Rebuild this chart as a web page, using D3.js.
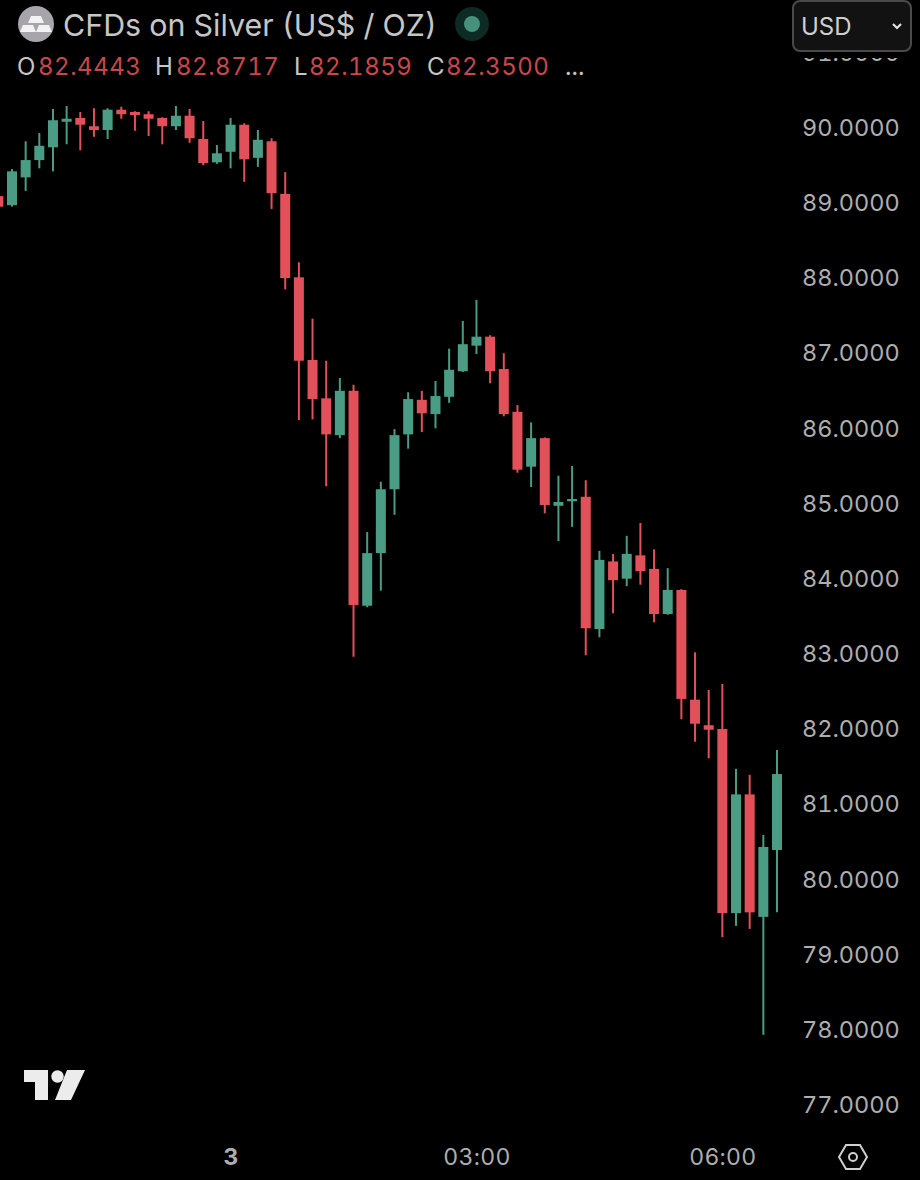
<!DOCTYPE html>
<html>
<head>
<meta charset="utf-8">
<script src="https://cdn.jsdelivr.net/npm/d3@7"></script>
<style>html,body{margin:0;padding:0;background:#000;overflow:hidden}svg{display:block}text{font-family:Inter,"Liberation Sans",sans-serif;font-variant-numeric:tabular-nums;font-feature-settings:"tnum" 1}</style>
</head>
<body>
<svg id="c" width="920" height="1180"></svg>
<script>
const opens=[89.08,88.96,89.33,89.56,89.73,90.07,90.12,90.01,89.96,90.23,90.20,90.17,90.12,90.01,90.15,89.84,89.53,89.67,90.03,89.59,89.81,89.11,88.00,86.90,86.39,85.90,86.49,83.63,84.33,85.18,85.91,86.37,86.18,86.41,86.75,87.09,87.21,86.78,86.21,85.48,85.86,84.96,85.02,85.08,83.32,84.22,83.99,84.30,84.12,83.52,83.84,82.38,82.04,81.99,79.54,81.12,79.49,80.38];
const highs=[89.08,89.44,89.81,89.92,90.24,90.28,90.20,90.25,90.25,90.27,90.21,90.21,90.13,90.28,90.24,90.08,89.76,90.12,90.05,89.96,89.85,89.40,88.20,87.45,86.89,86.66,86.57,84.61,85.28,85.98,86.47,86.49,86.62,87.05,87.42,87.70,87.23,86.99,86.30,86.07,85.87,85.36,85.49,85.30,84.36,84.32,84.56,84.73,84.38,84.13,83.85,83.01,82.51,82.59,81.46,81.38,80.58,81.71];
const lows=[88.94,88.94,89.15,89.45,89.41,89.77,89.69,89.87,89.84,90.11,89.95,89.88,89.77,89.96,89.79,89.49,89.51,89.45,89.27,89.47,88.91,87.84,86.10,86.11,85.22,85.86,82.95,83.61,83.83,84.84,85.72,85.94,85.99,86.33,86.74,86.98,86.59,86.15,85.40,85.21,84.86,84.49,84.68,82.97,83.21,83.53,83.89,83.91,83.41,83.51,82.12,81.82,81.60,79.22,79.37,79.33,77.92,79.55];
const closes=[88.94,89.41,89.56,89.75,90.09,90.11,90.03,89.96,90.23,90.17,90.16,90.11,90.01,90.15,89.85,89.52,89.65,90.03,89.57,89.83,89.12,87.99,86.89,86.38,85.91,86.49,83.64,84.33,85.18,85.90,86.38,86.19,86.42,86.77,87.11,87.21,86.75,86.18,85.44,85.86,84.97,85.01,85.05,83.33,84.24,83.97,84.32,84.09,83.52,83.84,82.39,82.06,81.98,79.54,81.12,79.55,80.42,81.39];
const priceTicks=[77,78,79,80,81,82,83,84,85,86,87,88,89,90,91];
const timeTickIndex=[17,35,53];
const timeTickLabels=["3","03:00","06:00"];
const title="CFDs on Silver (US$ / OZ)";
const ohlcKeys=["O","H","L","C"];
const ohlcValues=["82.4443","82.8717","82.1859","82.3500"];

const UP="#4a9c84",DOWN="#e2505a",TXT="#aeaeae";
const svg=d3.select("#c");
svg.append("rect").attr("width",920).attr("height",1180).attr("fill","#000");
const x=d3.scaleLinear().domain([0,57]).range([-1.66,777]);
const y=d3.scaleLinear().domain([77,90]).range([1104,127]);
const rows=opens.map((o,i)=>({i,o,h:highs[i],l:lows[i],c:closes[i]}));

const defs=svg.append("defs");
defs.append("clipPath").attr("id","plot").append("rect").attr("x",0).attr("y",0).attr("width",792).attr("height",1135);
defs.append("clipPath").attr("id","axisclip").append("rect").attr("x",792).attr("y",58).attr("width",128).attr("height",1080);

const plot=svg.append("g").attr("clip-path","url(#plot)");
const col=d=>d.c>=d.o?UP:DOWN;
plot.selectAll("line.w").data(rows).join("line").attr("class","w")
 .attr("x1",d=>x(d.i)).attr("x2",d=>x(d.i)).attr("y1",d=>y(d.h)).attr("y2",d=>y(d.l))
 .attr("stroke",col).attr("stroke-width",2);
plot.selectAll("rect.b").data(rows).join("rect").attr("class","b")
 .attr("x",d=>x(d.i)-5).attr("width",10)
 .attr("y",d=>y(Math.max(d.o,d.c))).attr("height",d=>Math.max(2,Math.abs(y(d.o)-y(d.c))))
 .attr("fill",col);

// price axis
const yAxis=d3.axisRight(y).tickValues(priceTicks).tickFormat(d3.format(".4f")).tickSize(0).tickPadding(0);
const gy=svg.append("g").attr("clip-path","url(#axisclip)").append("g").attr("transform","translate(802,1)").call(yAxis);
gy.select(".domain").remove();
gy.selectAll("text").attr("fill",TXT).style("font-size","23.5px");

// time axis
const xAxis=d3.axisBottom(x).tickValues(timeTickIndex).tickFormat((d,i)=>timeTickLabels[i]).tickSize(0).tickPadding(0);
const gx=svg.append("g").attr("transform","translate(0,1149)").call(xAxis);
gx.select(".domain").remove();
gx.selectAll("text").attr("fill",TXT).attr("dy","0.71em").attr("y",0).style("font-size","23px").style("letter-spacing","0.3px")
  .style("font-weight",(d,i)=>i===0?700:400);

// header icon
const ic=svg.append("g");
ic.append("circle").attr("cx",36).attr("cy",24).attr("r",18).attr("fill","#a7a5ab");
const bar=(px,py)=>ic.append("path").attr("d",`M${px-5},${py-5}h10l3,7h-16z`).attr("fill","#f2f2f2");
bar(36,21);bar(28,30);bar(44,30);

svg.append("text").attr("x",63).attr("y",36).attr("fill","#c6c6c6").style("font-size","30.4px").text(title);
svg.append("circle").attr("cx",472).attr("cy",24).attr("r",17).attr("fill","#0e2a24");
svg.append("circle").attr("cx",472).attr("cy",24).attr("r",8).attr("fill","#45917c");

// OHLC
const keyX=[17,155,294,427],valX=[38,176,309,446];
ohlcKeys.forEach((k,i)=>{
 svg.append("text").attr("x",keyX[i]).attr("y",75).attr("fill","#c6c6c6").style("font-size","24px").text(k);
 svg.append("text").attr("x",valX[i]).attr("y",75).attr("fill","#c8464f").style("font-size","24px").style("letter-spacing","0.5px").text(ohlcValues[i]);
});
svg.append("text").attr("x",565).attr("y",75).attr("fill","#c6c6c6").style("font-size","24px").text("...");

// currency button
svg.append("rect").attr("x",793).attr("y",1).attr("width",118).attr("height",50).attr("rx",7).attr("fill","#121212").attr("stroke","#4a4a4a").attr("stroke-width",2);
svg.append("text").attr("x",801).attr("y",35).attr("fill","#cfcfcf").style("font-size","24px").text("USD");
svg.append("path").attr("d","M893,24l4,4l4,-4").attr("fill","none").attr("stroke","#e0e0e0").attr("stroke-width",2.2);

// logo
svg.append("path").attr("d","M24,1070h24v30h-13v-18h-11z").attr("fill","#ececec");
svg.append("circle").attr("cx",57.5).attr("cy",1076.5).attr("r",6.2).attr("fill","#ececec");
svg.append("path").attr("d","M67,1070h18l-14,30h-16z").attr("fill","#ececec");

// settings hexagon
svg.append("path").attr("d","M839,1157l7,-12h14l7,12l-7,12h-14z").attr("fill","none").attr("stroke","#cfcfcf").attr("stroke-width",2);
svg.append("circle").attr("cx",853).attr("cy",1157).attr("r",4).attr("fill","none").attr("stroke","#cfcfcf").attr("stroke-width",2);
</script>
</body>
</html>
